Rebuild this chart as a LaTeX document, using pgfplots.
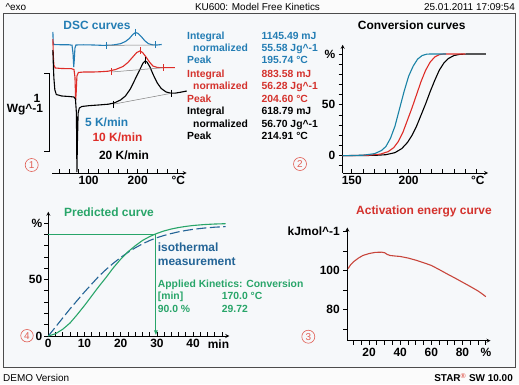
\documentclass[border=0pt]{standalone}
\usepackage{fontspec}
\setmainfont{Liberation Sans}
\usepackage{pgfplots}
\pgfplotsset{compat=1.18}
\usetikzlibrary{arrows.meta}
\definecolor{dscblue}{RGB}{35,125,180}
\definecolor{convblue}{RGB}{25,130,165}
\definecolor{dscred}{RGB}{222,45,40}
\definecolor{txtred}{RGB}{212,50,45}
\definecolor{grn}{RGB}{40,165,105}
\definecolor{dashblue}{RGB}{35,100,150}
\definecolor{actred}{RGB}{200,70,60}
\definecolor{circ}{RGB}{225,95,85}
\definecolor{bgin}{RGB}{246,248,250}
\pgfplotsset{mybase/.style={scale only axis, clip=false, at={(0pt,0pt)}, anchor=south west,
  axis line style={-, line width=0.8bp},
  tick style={line width=0.8bp, black},
  major tick length=4bp, minor tick length=4bp,
  ticklabel style={font=\fontsize{12}{12}\selectfont\bfseries},
  /pgf/number format/assume math mode=true,
  every axis plot/.append style={line width=1.1bp}}}
\newcommand\fa{\fontsize{10.4}{10.4}\selectfont\bfseries}
\newcommand\fb{\fontsize{12}{12}\selectfont\bfseries}
\begin{document}
\begin{tikzpicture}[x=1bp,y=1bp]
\useasboundingbox (0,0) rectangle (519,384);
\fill[white!97!gray] (0,0) rectangle (519,384);
\fill[fill=bgin, draw=gray!60!black, line width=0.8bp] (3.5,17) rectangle (515.5,370.5);
% header / footer
\node[anchor=west, font=\fontsize{10}{10}\selectfont] at (2,377.3) {\textasciicircum exo};
\node[font=\fontsize{10}{10}\selectfont] at (257.5,377.3) {KU600: Model Free Kinetics};
\node[anchor=east, font=\fontsize{10}{10}\selectfont, inner sep=1bp] at (516,377.3) {25.01.2011 17:09:54};
\node[anchor=west, font=\fontsize{10}{10}\selectfont, inner sep=1bp] at (2,6.3) {DEMO Version};
\node[anchor=east, font=\fontsize{10}{10}\selectfont\bfseries, inner sep=1bp] at (514,6.3) {STAR\textcolor{circ}{\textsuperscript{®}} SW 10.00};

% ---------------- Panel 1: DSC curves
\begin{scope}[shift={(52.4bp,211bp)}]
\begin{axis}[mybase, width=134.3bp, height=153bp,
  xmin=26, xmax=300, ymin=0, ymax=153,
  axis y line=none, axis x line=bottom, xtick align=inside,
  xtick={100,200}, xticklabels={100,200},
  minor xtick={40,60,80,120,140,160,180,220,240,260,280},
  extra x ticks={283}, extra x tick labels={°C}, extra x tick style={major tick length=0pt}]
\addplot[dscblue] coordinates {(27,141) (27.6,131) (28.5,128.5) (40,128.3) (60,128.2) (66,127.8) (68,120) (69.5,106) (70.5,112) (72,125) (74,128) (90,128.2) (110,128) (130,127.6) (150,128) (165,129.3) (175,131.5) (183,134.5) (190,138.5) (195.7,140.5) (201,139.5) (208,136) (215,132) (222,129.3) (230,128.2) (240,128) (249,128.5)};
\addplot[dscred] coordinates {(27,134) (27.8,118) (29,108) (32,105) (45,104.5) (65,104.3) (70,103.5) (72,96) (73.5,73) (74.5,80) (76,97) (79,100.5) (90,101) (110,101) (125,101.3) (140,101.8) (155,103.5) (170,106.5) (180,110.5) (190,116) (198,120.5) (204.6,122) (210,120.5) (217,116) (224,111) (231,107) (240,105.5) (250,105.3) (265,105.3) (276,105.3)};
\addplot[black] coordinates {(27,123) (27.8,110) (29,95) (31,83) (34,78.5) (45,77) (60,76.5) (70,76) (73,74) (75,60) (76,1) (77,30) (78.5,60) (81,65) (86,66.5) (100,67.3) (120,68) (140,68.8) (152,70) (165,73) (175,77) (185,84) (195,94) (205,104) (211,110) (215,112) (219,111) (225,106) (232,98) (240,90) (248,84.5) (258,81) (268,79.8) (277,79.9) (288,80.8) (300,82)};
\addplot[gray, line width=0.5bp] coordinates {(137,127.6) (235.5,128)};
\addplot[gray, line width=0.5bp] coordinates {(147,101) (252.4,105.3)};
\addplot[gray, line width=0.5bp] coordinates {(150.4,68.8) (269.6,79.8)};
\addplot[only marks, mark=|, mark size=3.5bp, dscblue, mark options={line width=0.8bp}] coordinates {(137,127.6) (235.5,128) (195.7,140.5)};
\addplot[only marks, mark=|, mark size=3.5bp, dscred, mark options={line width=0.8bp}] coordinates {(147,101) (252.4,105.3) (204.6,122)};
\addplot[only marks, mark=|, mark size=3.5bp, black, mark options={line width=0.8bp}] coordinates {(150.4,68.8) (269.6,79.8) (214.9,112)};
\end{axis}
\end{scope}
\draw[line width=0.9bp] (44,311) -- (49,311) -- (49,233) -- (44,233);
\node[font=\fb] at (37,286) {1};
\node[font=\fb] at (25,274) {Wg\textasciicircum-1};
\node[font=\fb, text=dscblue] at (97,359) {DSC curves};
\node[font=\fb, text=dscblue] at (106.7,261.7) {5 K/min};
\node[font=\fb, text=dscred] at (117.5,246.7) {10 K/min};
\node[font=\fb] at (124,229) {20 K/min};
\node[draw=circ, circle, line width=0.6bp, inner sep=0pt, minimum size=13bp, text=circ, font=\fontsize{10}{10}\selectfont] at (31.7,219) {1};
% info column
\begin{scope}[every node/.style={inner sep=0pt, anchor=base west, font=\fa}]
\node[text=dscblue] at (187,344.2) {Integral};
\node[text=dscblue] at (193,332.2) {normalized};
\node[text=dscblue] at (187,320.2) {Peak};
\node[text=txtred] at (187,306.9) {Integral};
\node[text=txtred] at (193,294.5) {normalized};
\node[text=txtred] at (187,281.9) {Peak};
\node at (187,269.5) {Integral};
\node at (193,256.9) {normalized};
\node at (187,244.9) {Peak};
\node[text=dscblue] at (261.5,344.2) {1145.49 mJ};
\node[text=dscblue] at (261.5,332.2) {55.58 Jg\textasciicircum-1};
\node[text=dscblue] at (261.5,320.2) {195.74 °C};
\node[text=txtred] at (261.5,306.9) {883.58 mJ};
\node[text=txtred] at (261.5,294.5) {56.28 Jg\textasciicircum-1};
\node[text=txtred] at (261.5,281.9) {204.60 °C};
\node at (261.5,269.5) {618.79 mJ};
\node at (261.5,256.9) {56.70 Jg\textasciicircum-1};
\node at (261.5,244.9) {214.91 °C};
\end{scope}

% ---------------- Panel 2: Conversion curves
\begin{scope}[shift={(342.7bp,211bp)}]
\begin{axis}[mybase, width=145.4bp, height=128.2bp,
  xmin=142, xmax=270, ymin=-17, ymax=109,
  axis x line=bottom, axis y line=left, xtick align=inside, ytick align=outside,
  xtick={150,200}, xticklabels={150,200},
  minor xtick={160,170,180,190,210,220,230,240,250,260},
  extra x ticks={261}, extra x tick labels={°C}, extra x tick style={major tick length=0pt},
  ytick={0,50,100}, yticklabels={0,50,\%},
  minor ytick={-10,10,20,30,40,60,70,80,90}]
\addplot[black] coordinates {(142,0) (170,0.3) (180,1) (188,3) (194,7) (199,13) (203,20) (207,29) (211,40) (215,51) (219,63) (223,74) (227,84) (231,91) (235,95.5) (240,98.5) (245,99.6) (252,100) (268,100)};
\addplot[dscred] coordinates {(142,0) (165,0.5) (175,1.5) (182,4) (187,8) (191,14) (195,23) (199,35) (203,47) (207,60) (211,73) (215,84) (219,92) (223,97) (227,99.3) (231,100) (250,100)};
\addplot[convblue] coordinates {(142,0) (160,0.5) (170,2) (176,5) (180,9) (184,17) (188,29) (192,46) (196,63) (200,78) (204,88) (208,95) (212,98.5) (216,99.8) (220,100) (233,100)};
\end{axis}
\end{scope}
\node[font=\fb] at (411.7,359) {Conversion curves};
\node[draw=circ, circle, line width=0.6bp, inner sep=0pt, minimum size=13bp, text=circ, font=\fontsize{10}{10}\selectfont] at (300,220) {2};

% ---------------- Panel 3: Activation energy
\begin{scope}[shift={(347.3bp,43.3bp)}]
\begin{axis}[mybase, width=143.2bp, height=113.1bp,
  xmin=6, xmax=98, ymin=64, ymax=122,
  axis x line=bottom, axis y line=left, tick align=outside,
  xtick={20,40,60,80}, xticklabels={20,40,60,80},
  extra x ticks={95}, extra x tick labels={\%},
  minor xtick={10,15,25,30,35,45,50,55,65,70,75,85,90},
  ytick={80,100,120}, yticklabels={80,100,kJmol\textasciicircum-1},
  minor ytick={70,90,110}]
\addplot[actred] coordinates {(6.5,101) (8,102.8) (10,104.5) (13,106.3) (16,107.7) (20,108.7) (24,109.3) (28,109.4) (30,109.1) (31.5,108.3) (33.5,107.7) (37,107.4) (40,107.2) (45,106.4) (50,105.3) (55,104) (60,102.6) (65,100.5) (70,98.3) (75,96.2) (80,94) (85,91.8) (90,89.5) (93,87.8) (95,86.6)};
\end{axis}
\end{scope}
\node[font=\fb, text=txtred] at (424,172.3) {Activation energy curve};
\node[draw=circ, circle, line width=0.6bp, inner sep=0pt, minimum size=13bp, text=circ, font=\fontsize{10}{10}\selectfont] at (308.3,47.3) {3};

% ---------------- Panel 4: Predicted curve
\begin{scope}[shift={(48.3bp,48bp)}]
\begin{axis}[mybase, width=181bp, height=124.3bp,
  xmin=0, xmax=50, ymin=0, ymax=110,
  axis x line=bottom, axis y line=left, xtick align=inside, ytick align=outside,
  xtick={0,10,20,30,40}, xticklabels={0,10,20,30,40},
  minor xtick={2,4,...,48},
  extra x ticks={47}, extra x tick labels={min}, extra x tick style={major tick length=0pt},
  ytick={0,50,100}, yticklabels={0,50,\%},
  yticklabel style={xshift=1.5bp},
  minor ytick={10,20,30,40,60,70,80,90}]
\addplot[dashblue, dash pattern=on 10bp off 3.5bp] coordinates {(0,0) (2,8) (4,16) (6,24) (8,31.5) (10,39) (12,46) (14,53) (16,59) (18,64.5) (20,69.5) (22,74) (24,78) (26,81.5) (28,84.5) (30,87) (32,89) (34,90.7) (36,92.2) (38,93.4) (40,94.4) (43,95.5) (46,96.3) (49,96.8)};
\addplot[grn] coordinates {(0,0) (2,2) (4,6) (6,11.5) (8,19) (10,27) (12,35.5) (14,44) (16,52) (18,60.5) (20,68) (22,74.5) (24,79.8) (26,84.5) (28,88) (30,90.8) (32,93) (34,94.7) (36,96) (38,97) (40,97.8) (43,98.6) (46,99.1) (49,99.4)};
\addplot[grn, line width=0.9bp] coordinates {(0,90) (29.72,90)};
\addplot[grn, line width=0.9bp, -{Latex[length=5bp,width=4bp]}] coordinates {(29.72,90) (29.72,0.5)};
\end{axis}
\end{scope}
\node[font=\fb, text=grn] at (109,171.3) {Predicted curve};
\begin{scope}[every node/.style={inner sep=0pt, anchor=base west}]
\node[font=\fb, text=dashblue] at (157.7,133) {isothermal};
\node[font=\fb, text=dashblue] at (157.7,118.7) {measurement};
\node[font=\fa, text=grn] at (157.7,96.9) {Applied Kinetics: Conversion};
\node[font=\fa, text=grn] at (157.7,84.2) {[min]};
\node[font=\fa, text=grn] at (221.7,84.2) {170.0 °C};
\node[font=\fa, text=grn] at (157.7,71.9) {90.0 \%};
\node[font=\fa, text=grn] at (221.7,71.9) {29.72};
\end{scope}
\node[draw=circ, circle, line width=0.6bp, inner sep=0pt, minimum size=12.5bp, text=circ, font=\fontsize{10}{10}\selectfont] at (27,48.3) {4};
\end{tikzpicture}
\end{document}
